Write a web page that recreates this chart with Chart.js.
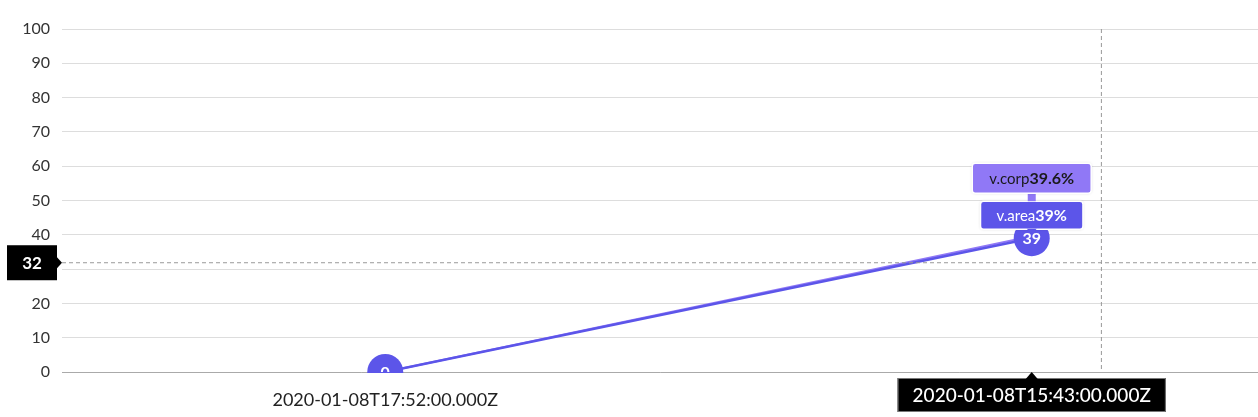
<!DOCTYPE html>
<html>
<head>
    <title>v.area / v.corp</title>
    <script src="https://cdn.jsdelivr.net/npm/chart.js"></script>
    <style>
        html, body { margin: 0; background: #fff; overflow: hidden; }
        canvas { display: block; }
    </style>
</head>
<body>
    <canvas id="lineChart" width="1258" height="417"></canvas>

    <script>
        // data
        const xLabels = ['2020-01-08T17:52:00.000Z', '2020-01-08T15:43:00.000Z'];
        const areaValues = [0, 39];
        const corpValues = [0, 39.6];
        const yTicks = [0, 10, 20, 30, 40, 50, 60, 70, 80, 90, 100];
        // hover cursor, in axis units
        const cursorX = 1.107;
        const cursorY = 32;
        const hoverIndex = 1;

        const areaColor = '#5c55e9';
        const corpColor = '#9078f6';
        const font = 'Lato, "Noto Sans", sans-serif';

        function roundBox(ctx, x, y, w, h, r) {
            ctx.beginPath();
            ctx.moveTo(x + r, y);
            ctx.lineTo(x + w - r, y);
            ctx.quadraticCurveTo(x + w, y, x + w, y + r);
            ctx.lineTo(x + w, y + h - r);
            ctx.quadraticCurveTo(x + w, y + h, x + w - r, y + h);
            ctx.lineTo(x + r, y + h);
            ctx.quadraticCurveTo(x, y + h, x, y + h - r);
            ctx.lineTo(x, y + r);
            ctx.quadraticCurveTo(x, y, x + r, y);
            ctx.closePath();
        }

        // white numbers inside the big points, clipped to the plot
        const pointLabels = {
            id: 'pointLabels',
            afterDatasetsDraw(chart) {
                const ctx = chart.ctx;
                const a = chart.chartArea;
                const meta = chart.getDatasetMeta(0);
                ctx.save();
                ctx.beginPath();
                ctx.rect(a.left, a.top, a.right - a.left, a.bottom - a.top);
                ctx.clip();
                ctx.fillStyle = '#fff';
                ctx.font = 'bold 16px ' + font;
                ctx.textAlign = 'center';
                ctx.textBaseline = 'middle';
                meta.data.forEach((pt, i) => {
                    ctx.fillText(String(areaValues[i]), pt.x, pt.y + 1);
                });
                ctx.restore();
            }
        };

        function tipBox(ctx, cx, bottom, name, value, fill, textColor, padX, h) {
            ctx.font = '15px ' + font;
            const w1 = ctx.measureText(name).width;
            ctx.font = 'bold 16px ' + font;
            const w2 = ctx.measureText(value).width;
            const w = w1 + w2 + padX * 2;
            const x = cx - w / 2;
            const y = bottom - h;
            ctx.save();
            ctx.shadowColor = 'rgba(0,0,0,0.18)';
            ctx.shadowBlur = 3;
            ctx.fillStyle = fill;
            roundBox(ctx, x, y, w, h, 3);
            ctx.fill();
            ctx.restore();
            ctx.strokeStyle = '#fff';
            ctx.lineWidth = 1.5;
            roundBox(ctx, x, y, w, h, 3);
            ctx.stroke();
            ctx.textBaseline = 'middle';
            ctx.textAlign = 'left';
            ctx.fillStyle = textColor;
            ctx.font = '15px ' + font;
            ctx.fillText(name, x + padX, y + h / 2 + 1);
            ctx.font = 'bold 16px ' + font;
            ctx.fillText(value, x + padX + w1, y + h / 2 + 1);
            return y;
        }

        const cursorPlugin = {
            id: 'cursorPlugin',
            afterDraw(chart) {
                const ctx = chart.ctx;
                const a = chart.chartArea;
                const xs = chart.scales.x;
                const ys = chart.scales.y;
                const px = xs.getPixelForValue(cursorX);
                const py = ys.getPixelForValue(cursorY);
                const pt = chart.getDatasetMeta(0).data[hoverIndex];

                // dashed cross
                ctx.save();
                ctx.strokeStyle = '#999';
                ctx.lineWidth = 1;
                ctx.setLineDash([4, 3]);
                ctx.beginPath();
                ctx.moveTo(px + 0.5, a.top);
                ctx.lineTo(px + 0.5, a.bottom);
                ctx.moveTo(a.left, py + 0.5);
                ctx.lineTo(a.right, py + 0.5);
                ctx.stroke();
                ctx.restore();

                // y cursor label
                ctx.fillStyle = '#000';
                ctx.fillRect(7, py - 17, 50, 35);
                ctx.beginPath();
                ctx.moveTo(57, py - 5);
                ctx.lineTo(62, py + 0.5);
                ctx.lineTo(57, py + 6);
                ctx.fill();
                ctx.fillStyle = '#fff';
                ctx.font = 'bold 17px ' + font;
                ctx.textAlign = 'center';
                ctx.textBaseline = 'middle';
                ctx.fillText(String(cursorY), 32, py + 1);

                // x cursor label
                const lbl = xLabels[hoverIndex];
                ctx.font = '500 19px ' + font;
                const lw = ctx.measureText(lbl).width + 30;
                const bx = pt.x - lw / 2;
                const by = a.bottom + 6;
                ctx.fillStyle = '#000';
                ctx.fillRect(bx, by, lw, 34);
                ctx.strokeStyle = '#777';
                ctx.lineWidth = 1;
                ctx.strokeRect(bx + 0.5, by + 0.5, lw - 1, 33);
                ctx.fillStyle = '#000';
                ctx.beginPath();
                ctx.moveTo(pt.x - 6, by + 1);
                ctx.lineTo(pt.x, a.bottom);
                ctx.lineTo(pt.x + 6, by + 1);
                ctx.fill();
                ctx.fillStyle = '#fff';
                ctx.textAlign = 'center';
                ctx.fillText(lbl, pt.x, by + 18);

                // tooltips
                const areaTop = tipBox(ctx, pt.x, pt.y - 9, 'v.area', areaValues[hoverIndex] + '%', areaColor, '#fff', 16, 28);
                ctx.fillStyle = areaColor;
                ctx.beginPath();
                ctx.moveTo(pt.x - 5, pt.y - 9.5);
                ctx.lineTo(pt.x, pt.y - 4);
                ctx.lineTo(pt.x + 5, pt.y - 9.5);
                ctx.fill();

                ctx.fillStyle = corpColor;
                ctx.fillRect(pt.x - 4, areaTop - 9, 8, 9);
                tipBox(ctx, pt.x, areaTop - 8, 'v.corp', corpValues[hoverIndex] + '%', corpColor, '#1a1a1a', 17, 30);
            }
        };

        const ctx = document.getElementById('lineChart').getContext('2d');
        const myChart = new Chart(ctx, {
            type: 'line',
            data: {
                datasets: [{
                    label: 'v.area',
                    data: areaValues.map((v, i) => ({ x: i, y: v })),
                    borderColor: areaColor,
                    backgroundColor: areaColor,
                    borderWidth: 2.5,
                    pointRadius: 18,
                    pointBorderWidth: 0,
                    clip: 1,
                    fill: false
                }, {
                    label: 'v.corp',
                    data: corpValues.map((v, i) => ({ x: i, y: v })),
                    borderColor: corpColor,
                    backgroundColor: corpColor,
                    borderWidth: 2,
                    pointRadius: 0,
                    clip: 1,
                    fill: false
                }]
            },
            options: {
                responsive: false,
                animation: false,
                events: [],
                layout: { autoPadding: false, padding: { top: 29, left: 0, right: 0, bottom: 0 } },
                plugins: {
                    legend: { display: false },
                    tooltip: { enabled: false }
                },
                scales: {
                    x: {
                        type: 'linear',
                        min: -0.5,
                        max: 1.35,
                        afterBuildTicks: s => { s.ticks = xLabels.map((l, i) => ({ value: i })); },
                        afterFit: s => { s.height = 45; s.paddingLeft = 0; s.paddingRight = 0; },
                        grid: { display: false },
                        border: { color: '#aaa', width: 1 },
                        ticks: {
                            callback: v => xLabels[v],
                            color: '#222',
                            font: { family: font, size: 18 },
                            padding: 9,
                            maxRotation: 0
                        }
                    },
                    y: {
                        min: 0,
                        max: 100,
                        afterBuildTicks: s => { s.ticks = yTicks.map(v => ({ value: v })); },
                        afterFit: s => { s.width = 62; s.paddingTop = 0; s.paddingBottom = 0; },
                        grid: { color: '#dddddd', drawTicks: false },
                        border: { display: false },
                        ticks: {
                            color: '#333',
                            font: { family: font, size: 16 },
                            padding: 12
                        }
                    }
                }
            },
            plugins: [pointLabels, cursorPlugin]
        });
    </script>
</body>
</html>
